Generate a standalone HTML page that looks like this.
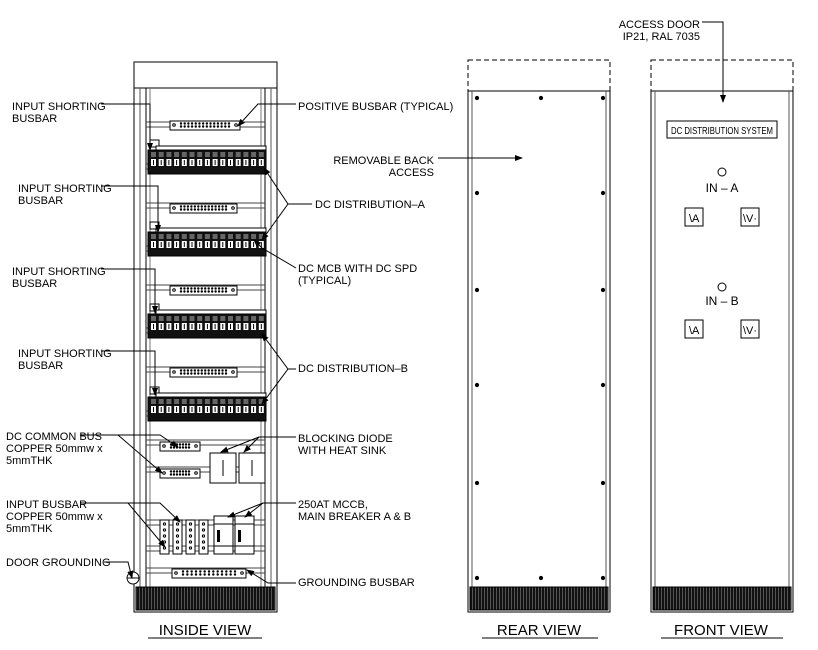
<!DOCTYPE html>
<html><head><meta charset="utf-8"><style>
body{margin:0;background:#fff}
svg{display:block}
text{font-family:"Liberation Sans",sans-serif;fill:#000}
</style></head><body>
<svg id="s" width="818" height="650" viewBox="0 0 818 650" xmlns="http://www.w3.org/2000/svg">
<defs>
<pattern id="gr" width="3" height="3" patternUnits="userSpaceOnUse"><rect width="3" height="3" fill="#111"/><rect x="1" width="1" height="3" fill="#555"/></pattern>
<marker id="ar" markerWidth="8" markerHeight="6" refX="7" refY="3" orient="auto" markerUnits="userSpaceOnUse"><path d="M0,0 L8,3 L0,6z" fill="#000"/></marker>
</defs>
<g stroke="#000" fill="none" stroke-width="1">
<rect x="134" y="62" width="143" height="550"/>
<line x1="134" y1="88" x2="277" y2="88"/>
<line x1="140" y1="88" x2="140" y2="587" stroke="#555"/>
<line x1="146" y1="88" x2="146" y2="587"/>
<line x1="150" y1="88" x2="150" y2="587" stroke="#777"/>
<line x1="261" y1="88" x2="261" y2="587" stroke="#777"/>
<line x1="265" y1="88" x2="265" y2="587"/>
<line x1="271" y1="88" x2="271" y2="587" stroke="#555"/>
<rect x="136" y="587" width="139" height="23" fill="url(#gr)"/>
<rect x="468" y="60" width="142" height="31" stroke-dasharray="5,3"/>
<rect x="468" y="91" width="142" height="521"/>
<line x1="472" y1="91" x2="472" y2="587" stroke="#555"/>
<line x1="606" y1="91" x2="606" y2="587" stroke="#555"/>
<rect x="470" y="587" width="138" height="23" fill="url(#gr)"/>
<rect x="651" y="60" width="142" height="31" stroke-dasharray="5,3"/>
<rect x="651" y="91" width="142" height="521"/>
<line x1="655" y1="91" x2="655" y2="587" stroke="#555"/>
<line x1="789" y1="91" x2="789" y2="587" stroke="#555"/>
<rect x="653" y="587" width="138" height="23" fill="url(#gr)"/>
<rect x="667" y="121" width="110" height="17"/>
<circle cx="722" cy="172" r="4"/>
<circle cx="722" cy="287" r="4"/>
<rect x="685" y="208" width="18" height="18"/><rect x="741" y="208" width="18" height="18"/>
<rect x="685" y="320" width="18" height="18"/><rect x="741" y="320" width="18" height="18"/>
<line x1="148" y1="638" x2="262" y2="638"/>
<line x1="482" y1="638" x2="598" y2="638"/>
<line x1="661" y1="638" x2="783" y2="638"/>
</g>
<g id="dyn"></g>
<g font-size="11">
<text x="205" y="635" text-anchor="middle" font-size="15">INSIDE VIEW</text>
<text x="539" y="635" text-anchor="middle" font-size="15">REAR VIEW</text>
<text x="721" y="635" text-anchor="middle" font-size="15">FRONT VIEW</text>
<text x="722" y="134" text-anchor="middle" font-size="10" textLength="102" lengthAdjust="spacingAndGlyphs">DC DISTRIBUTION SYSTEM</text>
<text x="722" y="192" text-anchor="middle" font-size="12">IN  –  A</text>
<text x="722" y="305" text-anchor="middle" font-size="12">IN  –  B</text>
<text x="689" y="222">\A</text><text x="743" y="222">\V·</text>
<text x="689" y="334">\A</text><text x="743" y="334">\V·</text>
<text x="700" y="28" text-anchor="end">ACCESS DOOR</text>
<text x="700" y="40" text-anchor="end">IP21, RAL 7035</text>
<text x="434" y="164" text-anchor="end">REMOVABLE BACK</text>
<text x="434" y="176" text-anchor="end">ACCESS</text>
<text x="12" y="110">INPUT SHORTING</text><text x="12" y="122">BUSBAR</text>
<text x="18" y="192">INPUT SHORTING</text><text x="18" y="204">BUSBAR</text>
<text x="12" y="275">INPUT SHORTING</text><text x="12" y="287">BUSBAR</text>
<text x="18" y="357">INPUT SHORTING</text><text x="18" y="369">BUSBAR</text>
<text x="6" y="440">DC COMMON BUS</text><text x="6" y="452">COPPER 50mmw x</text><text x="6" y="464">5mmTHK</text>
<text x="6" y="508">INPUT BUSBAR</text><text x="6" y="520">COPPER 50mmw x</text><text x="6" y="532">5mmTHK</text>
<text x="6" y="566">DOOR GROUNDING</text>
<text x="298" y="110">POSITIVE BUSBAR (TYPICAL)</text>
<text x="315" y="208">DC DISTRIBUTION–A</text>
<text x="298" y="272">DC MCB WITH DC SPD</text><text x="298" y="284">(TYPICAL)</text>
<text x="298" y="372">DC DISTRIBUTION–B</text>
<text x="298" y="442">BLOCKING DIODE</text><text x="298" y="454">WITH HEAT SINK</text>
<text x="298" y="508">250AT MCCB,</text><text x="298" y="520">MAIN BREAKER A &amp; B</text>
<text x="298" y="586">GROUNDING BUSBAR</text>
</g>
<g stroke="#000" fill="none" marker-end="url(#ar)">
<path d="M702,22 H723 V102"/>
<path d="M438,158 H522"/>
<path d="M101,104 H150 V150"/>
<path d="M101,186 H158 V232"/>
<path d="M101,269 H155 V313"/>
<path d="M101,351 H155 V395"/>
<path d="M296,104 H258 L238,126"/>
<path d="M312,204 H288 L264,168"/>
<path d="M312,204 H288 L262,240"/>
<path d="M296,268 L262,248 L254,240"/>
<path d="M296,369 H288 L262,334"/>
<path d="M296,369 H288 L262,404"/>
<path d="M80,435 H160 L178,447"/>
<path d="M80,435 H118 L162,473"/>
<path d="M296,437 H259 L244,452"/>
<path d="M296,437 H259 L221,452"/>
<path d="M80,503 H160 L180,522"/>
<path d="M80,503 H128 L165,547"/>
<path d="M296,503 H263 L245,517"/>
<path d="M296,503 H263 L228,517"/>
<path d="M296,583 H268 L247,570"/>
<path d="M104,562 H128 L132,578"/>
</g>
</svg>
<script>
var g=document.getElementById('dyn'),h='';
function R(x,y,w,ht,a){h+='<rect x="'+x+'" y="'+y+'" width="'+w+'" height="'+ht+'" '+(a||'fill="none" stroke="#000"')+'/>';}
function L(x1,y1,x2,y2,c){h+='<line x1="'+x1+'" y1="'+y1+'" x2="'+x2+'" y2="'+y2+'" stroke="'+(c||'#000')+'"/>';}
function C(x,y,r,f){h+='<circle cx="'+x+'" cy="'+y+'" r="'+r+'" fill="'+(f||'#000')+'" stroke="#000"/>';}
function rail(y){L(146,y,265,y,'#444');L(146,y+5,265,y+5,'#444');}
function busbar(y,x1,x2,n){R(x1,y-4,x2-x1,9,'fill="#fff" stroke="#000"');C(x1+4,y,1.3,'#fff');C(x2-4,y,1.3,'#fff');for(var i=0;i<n;i++){var x=x1+11+i*(x2-x1-22)/(n-1);C(x,y-1.5,0.7);C(x,y+1.5,0.7);}}
function mcb(y){rail(y+16);R(150,y-8,9,7,'fill="#fff" stroke="#000"');R(156,y-2,110,4,'fill="#fff" stroke="#000"');R(148,y+2,118,24,'fill="#111" stroke="#000"');for(var i=0;i<15;i++){var x=151+i*7.7;R(x,y+4,5,5,'fill="#666" stroke="none"');R(x,y+11,5,7,'fill="#fff" stroke="none"');R(x+2,y+12,1,5,'fill="#000" stroke="none"');}}
rail(122);busbar(125,170,240,14);
mcb(148);rail(203);busbar(208,170,237,14);
mcb(230);rail(285);busbar(290,170,237,14);
mcb(312);rail(367);busbar(372,170,237,14);
mcb(395);
rail(440);busbar(446,160,200,7);rail(467);busbar(473,160,200,7);
R(210,453,26,30,'fill="#fff" stroke="#000"');R(239,453,26,30,'fill="#fff" stroke="#000"');L(223,460,223,476);L(252,460,252,476);
rail(520);rail(546);
for(var k=0;k<4;k++){var x=160+k*13;R(x,520,9,34,'fill="#fff" stroke="#000"');for(var j=0;j<5;j++)C(x+4.5,524+j*6,1.1,'#fff');}
[214,235].forEach(function(x){R(x,516,19,8,'fill="#fff" stroke="#000"');R(x,524,19,22,'fill="#fff" stroke="#000"');R(x+3,530,3,12,'fill="#000" stroke="none"');R(x,546,19,8,'fill="#fff" stroke="#000"');});
rail(568);busbar(573,172,246,13);
C(133,578,6,'#fff');L(127,578,139,578);
[98,193,290,385,483,578].forEach(function(y){C(477,y,1.6);C(603,y,1.6);});
C(541,98,1.6);C(541,578,1.6);
g.innerHTML=h;
</script>
</body></html>
